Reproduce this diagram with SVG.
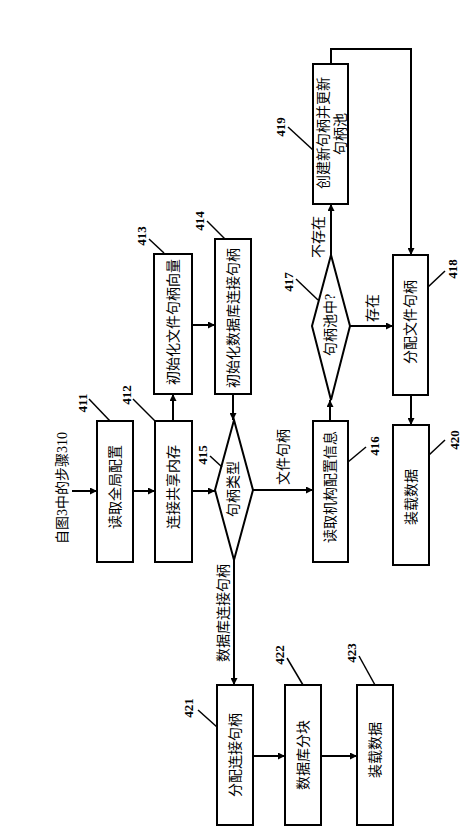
<svg xmlns="http://www.w3.org/2000/svg" width="474" height="835" viewBox="0 0 474 835">
<defs>
<marker id="ah" viewBox="0 0 10 10" refX="10" refY="5" markerWidth="9" markerHeight="7" orient="auto" markerUnits="userSpaceOnUse">
<path d="M0,0 L10,5 L0,10 z" fill="#000"/>
</marker>
</defs>
<style>
.box{fill:#fff;stroke:#000;stroke-width:2}
.t{font-family:"Liberation Serif","Noto Sans CJK SC",serif;font-size:14px;text-anchor:middle;dominant-baseline:central;fill:#000}
.n{font-family:"Liberation Serif",serif;font-size:13px;font-weight:bold;text-anchor:middle;dominant-baseline:central;fill:#000}
.c{fill:none;stroke:#000;stroke-width:2;marker-end:url(#ah)}
.l{fill:none;stroke:#000;stroke-width:1.5}
</style>
<rect width="474" height="835" fill="#fff"/>
<g id="connectors">
<path class="c" d="M72,491 H97"/>
<path class="c" d="M133,491 H155"/>
<path class="c" d="M192,491 H215"/>
<path class="c" d="M173,421 V394"/>
<path class="c" d="M192,325 H215"/>
<path class="c" d="M233,394 V420"/>
<path class="c" d="M253,490 H313"/>
<path class="c" d="M330,421 V400"/>
<path class="c" d="M350,326 H393"/>
<path class="c" d="M331,255 V204"/>
<path class="c" d="M331,64 V49 H411 V255"/>
<path class="c" d="M411,395 V425"/>
<path class="c" d="M234,560 V685"/>
<path class="c" d="M253,756 H285"/>
<path class="c" d="M321,756 H357"/>
<text class="t" transform="translate(283,457) rotate(-90)">文件句柄</text>
<text class="t" transform="translate(372,308) rotate(-90)">存在</text>
<text class="t" transform="translate(318,237) rotate(-90)">不存在</text>
<text class="t" transform="translate(223,613) rotate(-90)">数据库连接句柄</text>
</g>
<g id="start">
<text class="t" transform="translate(62,488) rotate(-90)">自图3中的步骤310</text>
</g>
<g id="n411">
<rect class="box" x="97" y="421" width="36" height="141"/>
<text class="t" transform="translate(115,487) rotate(-90)">读取全局配置</text>
<path class="l" d="M89,399 L110,421"/>
<text class="n" transform="translate(82,403) rotate(-90)">411</text>
</g>
<g id="n412">
<rect class="box" x="155" y="421" width="37" height="141"/>
<text class="t" transform="translate(173,487) rotate(-90)">连接共享内存</text>
<path class="l" d="M133,399 L155,421"/>
<text class="n" transform="translate(126,395) rotate(-90)">412</text>
</g>
<g id="n413">
<rect class="box" x="154" y="254" width="38" height="140"/>
<text class="t" transform="translate(173,322) rotate(-90)">初始化文件句柄向量</text>
<path class="l" d="M149,239 L164,253"/>
<text class="n" transform="translate(141,236) rotate(-90)">413</text>
</g>
<g id="n414">
<rect class="box" x="215" y="239" width="36" height="155"/>
<text class="t" transform="translate(233,318) rotate(-90)">初始化数据库连接句柄</text>
<path class="l" d="M207,221 L225,239"/>
<text class="n" transform="translate(199,221) rotate(-90)">414</text>
</g>
<g id="n415">
<polygon class="box" points="234,420 253,490 234,560 215,490"/>
<text class="t" transform="translate(233,489) rotate(-90)">句柄类型</text>
<path class="l" d="M210,456 L222,467"/>
<text class="n" transform="translate(202,455) rotate(-90)">415</text>
</g>
<g id="n416">
<rect class="box" x="313" y="421" width="35" height="141"/>
<text class="t" transform="translate(330,487) rotate(-90)">读取机构配置信息</text>
<path class="l" d="M348,462 L366,447"/>
<text class="n" transform="translate(374,446) rotate(-90)">416</text>
</g>
<g id="n417">
<polygon class="box" points="331,255 350,326 331,400 312,326"/>
<text class="t" transform="translate(330,325) rotate(-90)">句柄池中?</text>
<path class="l" d="M296,279 L318,300"/>
<text class="n" transform="translate(288,282) rotate(-90)">417</text>
</g>
<g id="n418">
<rect class="box" x="393" y="255" width="35" height="140"/>
<text class="t" transform="translate(410,322) rotate(-90)">分配文件句柄</text>
<path class="l" d="M428,287 L445,271"/>
<text class="n" transform="translate(452,269) rotate(-90)">418</text>
</g>
<g id="n419">
<rect class="box" x="313" y="64" width="35" height="140"/>
<text class="t" transform="translate(323,133) rotate(-90)">创建新句柄并更新</text>
<text class="t" transform="translate(340,134) rotate(-90)">句柄池</text>
<path class="l" d="M288,127 L313,150"/>
<text class="n" transform="translate(280,127) rotate(-90)">419</text>
</g>
<g id="n420">
<rect class="box" x="393" y="425" width="36" height="140"/>
<text class="t" transform="translate(411,497) rotate(-90)">装载数据</text>
<path class="l" d="M429,455 L445,440"/>
<text class="n" transform="translate(454,440) rotate(-90)">420</text>
</g>
<g id="n421">
<rect class="box" x="217" y="685" width="36" height="140"/>
<text class="t" transform="translate(235,755) rotate(-90)">分配连接句柄</text>
<path class="l" d="M198,710 L217,727"/>
<text class="n" transform="translate(188,708) rotate(-90)">421</text>
</g>
<g id="n422">
<rect class="box" x="285" y="685" width="36" height="140"/>
<text class="t" transform="translate(303,755) rotate(-90)">数据库分块</text>
<path class="l" d="M287,658 L303,685"/>
<text class="n" transform="translate(279,655) rotate(-90)">422</text>
</g>
<g id="n423">
<rect class="box" x="357" y="685" width="36" height="140"/>
<text class="t" transform="translate(375,750) rotate(-90)">装载数据</text>
<path class="l" d="M359,656 L375,685"/>
<text class="n" transform="translate(351,653) rotate(-90)">423</text>
</g>
</svg>
